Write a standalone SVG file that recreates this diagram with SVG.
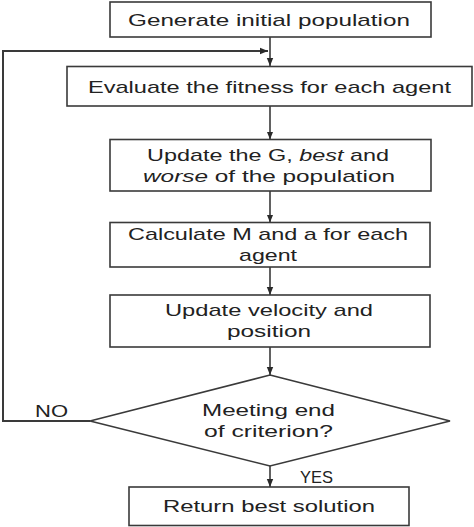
<svg xmlns="http://www.w3.org/2000/svg" width="474" height="527" viewBox="0 0 474 527">
<style>
.box{fill:#fff;stroke:#3a3a3a;stroke-width:1.6}
.ln{fill:none;stroke:#3a3a3a;stroke-width:1.6}
text{font-family:"Liberation Sans",Arial,sans-serif;font-size:17px;fill:#222;text-anchor:middle}
</style>
<defs>
<marker id="ah" markerUnits="userSpaceOnUse" markerWidth="8" markerHeight="8" viewBox="0 0 8 8" refX="8" refY="4" orient="auto">
<path d="M0,0.8 L8,4 L0,7.2 Z" fill="#2a2a2a"/>
</marker>
</defs>
<rect width="474" height="527" fill="#fff"/>
<g id="connectors">
<line class="ln" x1="270" y1="37" x2="270" y2="66" marker-end="url(#ah)"/>
<polyline class="ln" points="90,421 3,421 3,51 268,51" marker-end="url(#ah)" style="stroke-width:2"/>
<line class="ln" x1="270" y1="106" x2="270" y2="139.5" marker-end="url(#ah)"/>
<line class="ln" x1="270" y1="191" x2="270" y2="222.5" marker-end="url(#ah)"/>
<line class="ln" x1="270" y1="267" x2="270" y2="295" marker-end="url(#ah)"/>
<line class="ln" x1="270" y1="347" x2="270" y2="375" marker-end="url(#ah)"/>
<line class="ln" x1="270" y1="466" x2="270" y2="487" marker-end="url(#ah)"/>
<text x="51.5" y="417.3" textLength="33" lengthAdjust="spacingAndGlyphs">NO</text>
<text x="316.5" y="483" textLength="33" lengthAdjust="spacingAndGlyphs">YES</text>
</g>
<g id="n1">
<rect class="box" x="110" y="2" width="321" height="35"/>
<text x="269" y="25.5" textLength="282" lengthAdjust="spacingAndGlyphs">Generate initial population</text>
</g>
<g id="n2">
<rect class="box" x="67" y="66.5" width="405" height="39.5"/>
<text x="269.5" y="93" textLength="363" lengthAdjust="spacingAndGlyphs">Evaluate the fitness for each agent</text>
</g>
<g id="n3">
<rect class="box" x="110" y="139.5" width="321" height="51.5"/>
<text x="268" y="160.5" textLength="242" lengthAdjust="spacingAndGlyphs">Update the G, <tspan font-style="italic">best</tspan> and</text>
<text x="269" y="181.5" textLength="252" lengthAdjust="spacingAndGlyphs"><tspan font-style="italic">worse</tspan> of the population</text>
</g>
<g id="n4">
<rect class="box" x="110" y="222.5" width="320" height="44.5"/>
<text x="268" y="240" textLength="280" lengthAdjust="spacingAndGlyphs">Calculate M and a for each</text>
<text x="268" y="260.5" textLength="58" lengthAdjust="spacingAndGlyphs">agent</text>
</g>
<g id="n5">
<rect class="box" x="110" y="295" width="320" height="52"/>
<text x="269" y="315.5" textLength="208" lengthAdjust="spacingAndGlyphs">Update velocity and</text>
<text x="269" y="336.5" textLength="84" lengthAdjust="spacingAndGlyphs">position</text>
</g>
<g id="n6">
<polygon class="box" points="270,375 450,421 270,466 90,421"/>
<text x="268.5" y="416" textLength="133" lengthAdjust="spacingAndGlyphs">Meeting end</text>
<text x="268.5" y="437" textLength="129" lengthAdjust="spacingAndGlyphs">of criterion?</text>
</g>
<g id="n7">
<rect class="box" x="129" y="487" width="280" height="38.5"/>
<text x="269" y="512.3" textLength="212" lengthAdjust="spacingAndGlyphs">Return best solution</text>
</g>
</svg>
